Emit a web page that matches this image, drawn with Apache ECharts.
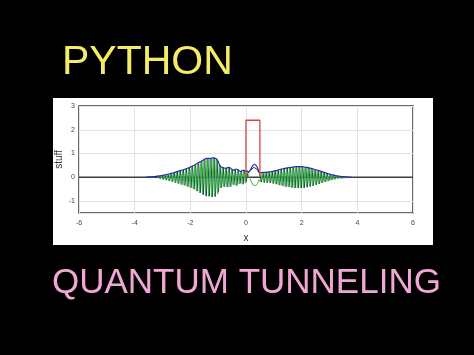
<!DOCTYPE html>
<html><head><meta charset="utf-8">
<script src="https://cdn.jsdelivr.net/npm/echarts@6/dist/echarts.min.js"></script>
<style>html,body{margin:0;padding:0;background:#000;}#c{width:474px;height:355px;}</style>
</head><body><div id="c"></div>
<script>
// Sampling grid for the wave values (x positions)
const gridStart = -3.6;
const gridStep = 0.055;
const realVals = [
 0.00,-0.01,0.01,-0.02,0.02,-0.03,0.03,-0.04,0.05,-0.06,
 0.07,-0.08,0.10,-0.11,0.13,-0.14,0.16,-0.17,0.19,-0.21,
 0.23,-0.25,0.27,-0.29,0.31,-0.33,0.35,-0.38,0.40,-0.43,
 0.46,-0.49,0.52,-0.56,0.60,-0.64,0.67,-0.71,0.75,-0.78,
 0.80,-0.80,0.79,-0.81,0.82,-0.81,0.78,-0.70,0.55,-0.45,
 0.42,-0.40,0.38,-0.40,0.42,-0.40,0.35,-0.30,0.32,-0.35,
 0.33,-0.28,0.25,-0.28,0.30,-0.25,
 0.25,0.12,-0.05,-0.20,-0.32,-0.37,-0.35,-0.25,-0.10,
 -0.20,0.20,-0.21,0.21,-0.22,0.22,-0.23,0.24,-0.25,0.27,
 -0.28,0.30,-0.32,0.34,-0.35,0.37,-0.38,0.39,-0.40,0.41,
 -0.42,0.43,-0.44,0.45,-0.45,0.45,-0.45,0.45,-0.44,0.43,
 -0.42,0.41,-0.39,0.38,-0.36,0.34,-0.32,0.30,-0.28,0.26,
 -0.24,0.22,-0.20,0.18,-0.16,0.14,-0.12,0.10,-0.09,0.07,
 -0.06,0.05,-0.04,0.03,-0.02,0.02,-0.01,0.01,0.00,0.00
];
// Imaginary part (dark), sampled a quarter wave later
const imagVals = [
 0.00,-0.01,0.01,-0.02,0.03,-0.03,0.04,-0.04,0.05,-0.06,
 0.08,-0.09,0.10,-0.12,0.13,-0.15,0.16,-0.18,0.20,-0.22,
 0.24,-0.26,0.28,-0.30,0.32,-0.34,0.37,-0.39,0.42,-0.44,
 0.47,-0.50,0.54,-0.58,0.62,-0.65,0.69,-0.73,0.76,-0.79,
 0.80,-0.79,0.80,-0.82,0.81,-0.80,0.74,-0.62,0.50,-0.43,
 0.41,-0.39,0.39,-0.41,0.41,-0.38,0.32,-0.31,0.34,-0.34,
 0.30,-0.26,0.26,-0.29,0.28,-0.20,
 0.15,0.20,0.30,0.38,0.42,0.42,0.35,0.25,0.12,
 -0.20,0.20,-0.21,0.22,-0.22,0.23,-0.24,0.25,-0.26,0.28,
 -0.29,0.31,-0.33,0.35,-0.36,0.37,-0.39,0.40,-0.41,0.42,
 -0.43,0.44,-0.45,0.45,-0.45,0.45,-0.45,0.44,-0.44,0.42,
 -0.41,0.40,-0.38,0.37,-0.35,0.33,-0.31,0.29,-0.27,0.25,
 -0.23,0.21,-0.19,0.17,-0.15,0.13,-0.11,0.10,-0.08,0.07,
 -0.05,0.04,-0.03,0.03,-0.02,0.01,-0.01,0.00,0.00,0.00
];
// |psi| (blue envelope)
const absVals = [
 0.00,0.01,0.01,0.02,0.02,0.03,0.03,0.04,0.05,0.06,
 0.07,0.08,0.10,0.11,0.13,0.14,0.16,0.17,0.19,0.21,
 0.23,0.25,0.27,0.29,0.31,0.33,0.35,0.38,0.40,0.43,
 0.46,0.49,0.52,0.56,0.60,0.64,0.67,0.71,0.75,0.78,
 0.80,0.80,0.79,0.81,0.82,0.81,0.78,0.70,0.55,0.45,
 0.42,0.40,0.38,0.40,0.42,0.40,0.35,0.30,0.32,0.35,
 0.33,0.28,0.25,0.28,0.30,0.25,
 0.28,0.23,0.28,0.40,0.50,0.55,0.50,0.40,0.22,
 0.20,0.20,0.21,0.21,0.22,0.22,0.23,0.24,0.25,0.27,
 0.28,0.30,0.32,0.34,0.35,0.37,0.38,0.39,0.40,0.41,
 0.42,0.43,0.44,0.45,0.45,0.45,0.45,0.45,0.44,0.43,
 0.42,0.41,0.39,0.38,0.36,0.34,0.32,0.30,0.28,0.26,
 0.24,0.22,0.20,0.18,0.16,0.14,0.12,0.10,0.09,0.07,
 0.06,0.05,0.04,0.03,0.02,0.02,0.01,0.01,0.00,0.00
];
// Potential barrier
const barrierX = [0, 0, 0.5, 0.5];
const barrierY = [0, 2.4, 2.4, 0];
const zeroX = [-6, 6];
const zeroY = [0, 0];
const titleTop = "PYTHON";
const titleBottom = "QUANTUM TUNNELING";

const gx = i => +(gridStart + i * gridStep).toFixed(4);
const realData = realVals.map((v, i) => [gx(i), v]);
const imagData = imagVals.map((v, i) => [+(gx(i) + gridStep / 2).toFixed(4), v]);
const absData = absVals.map((v, i) => [gx(i), v]);
const barrierData = barrierX.map((x, i) => [x, barrierY[i]]);
const zeroData = zeroX.map((x, i) => [x, zeroY[i]]);

const chart = echarts.init(document.getElementById('c'), null, {renderer: 'canvas'});
chart.setOption({
  backgroundColor: '#000',
  animation: false,
  graphic: [
    {type: 'rect', z: -10, shape: {x: 53, y: 98, width: 380, height: 147}, style: {fill: '#fff'}},
    {type: 'text', x: 62, y: 42, style: {text: titleTop, fill: '#f4ec64', font: '41px "Liberation Sans", Arial, sans-serif'}},
    {type: 'text', x: 52, y: 266, style: {text: titleBottom, fill: '#f2a6d6', font: '35px "Liberation Sans", Arial, sans-serif'}}
  ],
  grid: {left: 79, top: 106, width: 334, height: 107, show: true, borderColor: '#3a3a3a', borderWidth: 1.5, backgroundColor: 'transparent'},
  xAxis: {
    type: 'value', min: -6, max: 6, interval: 2,
    name: 'x', nameLocation: 'middle', nameGap: 20, nameMoveOverlap: false,
    nameTextStyle: {color: '#333', fontSize: 10, fontFamily: 'Liberation Sans'},
    axisLine: {show: false}, axisTick: {show: false},
    axisLabel: {color: '#444', fontSize: 7, margin: 7, fontFamily: 'Liberation Sans'},
    splitLine: {show: true, lineStyle: {color: '#e2e2e2', width: 1}}
  },
  yAxis: {
    type: 'value', min: -1.5, max: 3,
    name: 'stuff', nameLocation: 'middle', nameGap: 15, nameRotate: 90, nameMoveOverlap: false,
    nameTextStyle: {color: '#333', fontSize: 10, fontFamily: 'Liberation Sans'},
    axisLine: {show: false}, axisTick: {show: false},
    axisLabel: {color: '#444', fontSize: 7, margin: 4, showMinLabel: false, fontFamily: 'Liberation Sans'},
    splitLine: {show: true, lineStyle: {color: '#e2e2e2', width: 1}}
  },
  series: [
    {type: 'line', data: zeroData, symbol: 'none', lineStyle: {color: '#3c3c4c', width: 1.5}, z: 1},
    {type: 'line', data: imagData, symbol: 'none', lineStyle: {color: '#1f2f4a', width: 1}, z: 2},
    {type: 'line', data: realData, symbol: 'none', lineStyle: {color: '#3fbf4a', width: 1}, z: 3},
    {type: 'line', data: absData, symbol: 'none', smooth: 0.3, lineStyle: {color: '#2d2da6', width: 1.2}, z: 4},
    {type: 'line', data: barrierData, symbol: 'none', lineStyle: {color: '#d9453f', width: 1.3}, z: 5}
  ]
});
</script></body></html>
